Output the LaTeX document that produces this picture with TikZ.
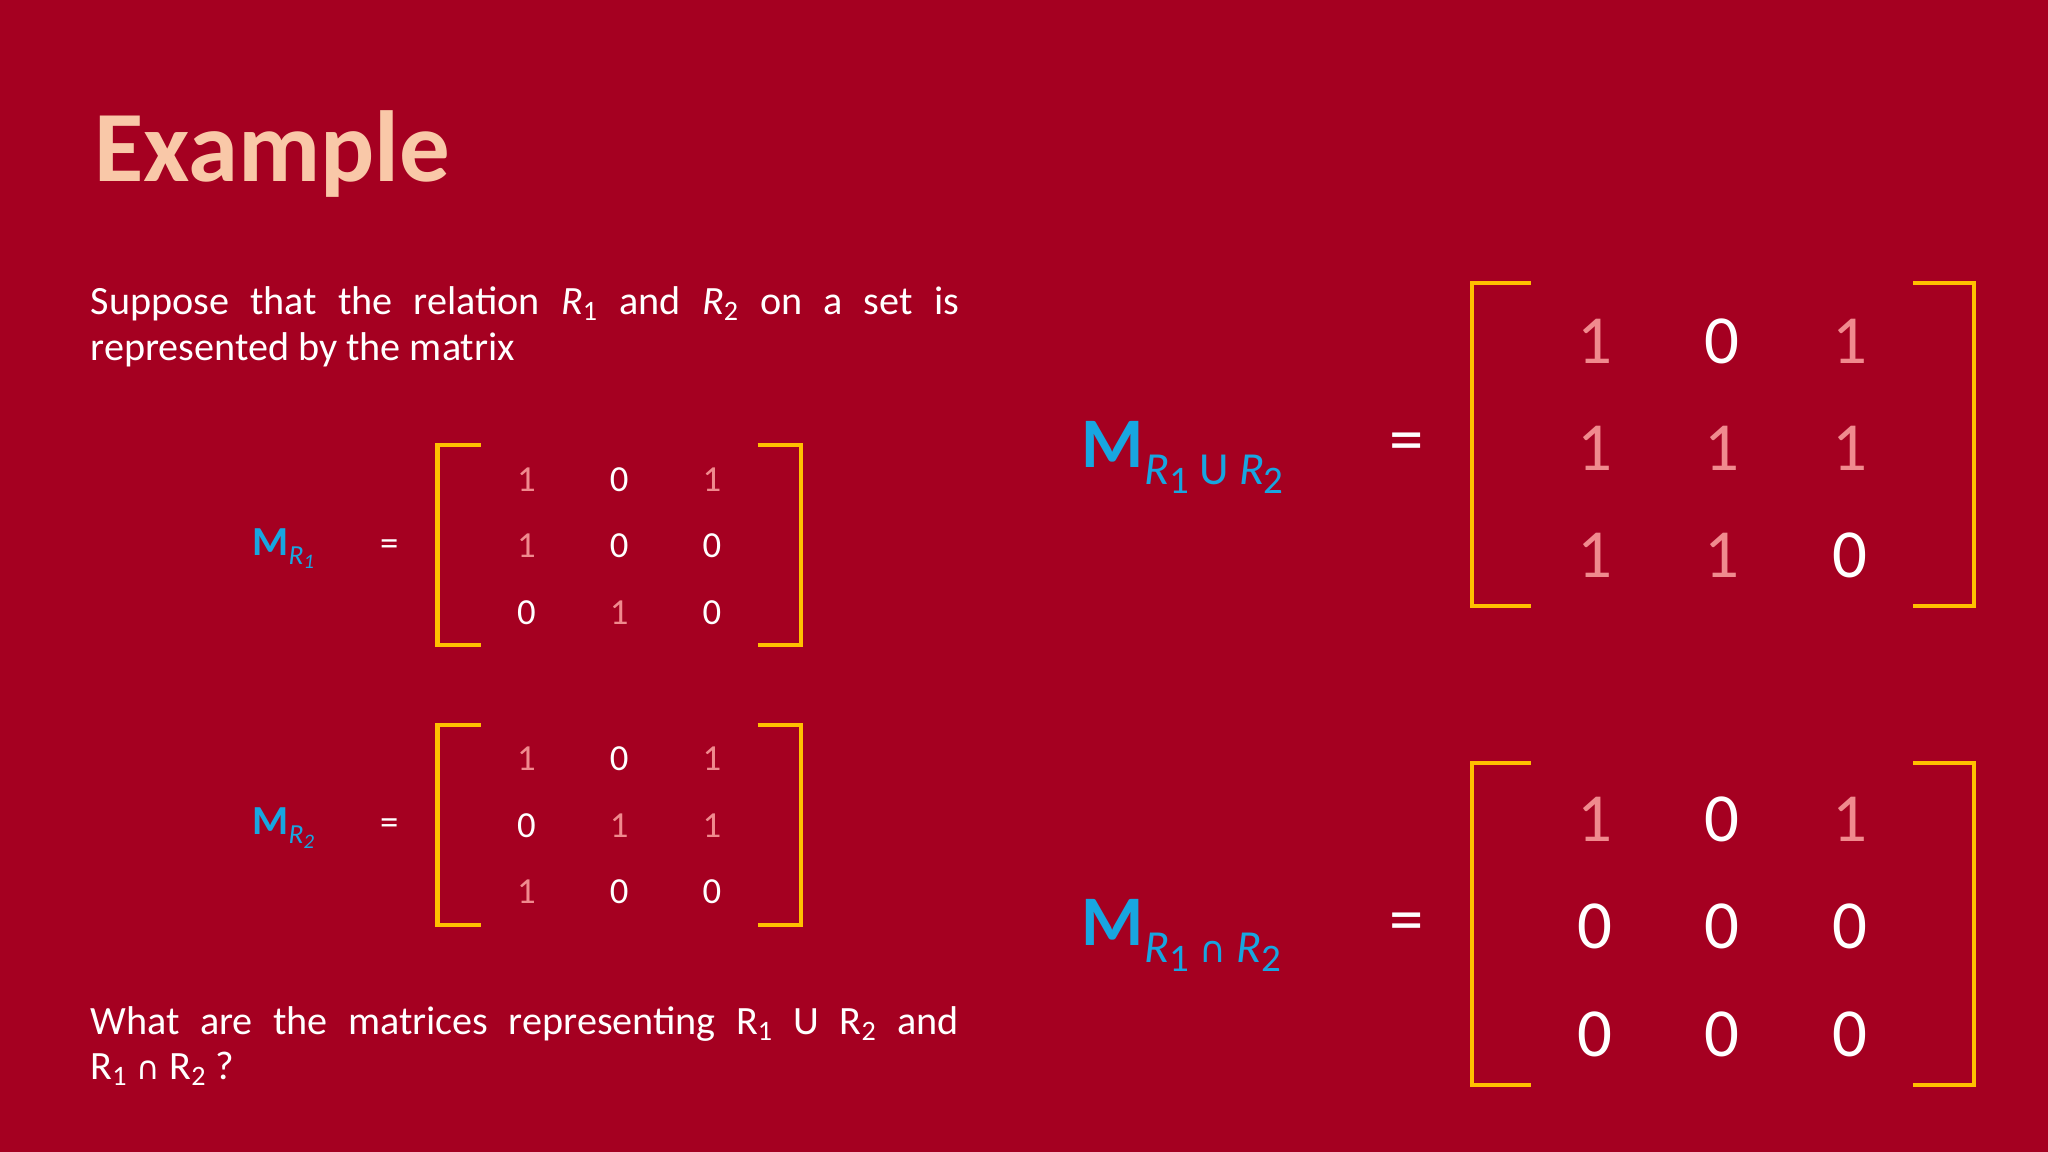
\documentclass[tikz,border=0pt]{standalone}
\usepackage{fontspec}
\setmainfont{Carlito}
\newfontfamily\djv{DejaVu Sans}
\definecolor{bg}{HTML}{A50021}
\definecolor{peach}{HTML}{F9C8A8}
\definecolor{pinkn}{HTML}{F08A8E}
\definecolor{gold}{HTML}{FFC000}
\definecolor{mblue}{HTML}{18A6E0}
\newcommand{\capn}{{\djv\fontsize{0.8em}{1em}\selectfont ∩}}
\newcommand{\bigsub}[3]{{\fontsize{#1}{#1}\selectfont\mdseries #2}}
\hyphenpenalty=10000
\begin{document}
\begin{tikzpicture}[x=0.02cm,y=-0.02cm,
  sm/.style={font=\fontsize{16}{18}\selectfont,text=white},
  smp/.style={sm,text=pinkn},
  bg1/.style={font=\fontsize{30}{32}\selectfont,text=white},
  bgp/.style={bg1,text=pinkn},
  brk/.style={draw=gold,line width=1.8pt},
  txt/.style={text=white,font=\fontsize{17.5}{20}\selectfont,anchor=north west,inner sep=0pt}]
\fill[bg] (0,0) rectangle (1568,882);
\node[anchor=west,text=peach,font=\fontsize{44}{48}\selectfont\bfseries] (title) at (66,118) {Example};
\node[txt,text width=13.3cm,align=justify] (intro) at (69,219) {Suppose that the relation \textit{R}\textsubscript{1} and \textit{R}\textsubscript{2} on a set is represented by the matrix};
\node[txt,text width=13.3cm,align=justify] (q) at (69,770) {What are the matrices representing R\textsubscript{1} U R\textsubscript{2} and\linebreak R\textsubscript{1} \capn{} R\textsubscript{2} ?};
% small matrix 1
\foreach \v/\s [count=\i from 0] in {1/smp,0/sm,1/smp,1/smp,0/sm,0/sm,0/sm,1/smp,0/sm}{
  \pgfmathsetmacro\cx{403+71*mod(\i,3)} \pgfmathsetmacro\cy{367+51*int(\i/3)}
  \node[\s] (a\i) at (\cx,\cy) {\v};}
\draw[brk] (368,341) -- (335,341) -- (335,494) -- (368,494);
\draw[brk] (580,341) -- (613,341) -- (613,494) -- (580,494);
\node[anchor=west,inner sep=0pt,text=mblue,font=\fontsize{18}{20}\selectfont\bfseries] (m1) at (193,420) {M\raisebox{-0.45ex}{\fontsize{12}{12}\selectfont\mdseries\itshape R\raisebox{-0.35ex}{\fontsize{9}{9}\selectfont 1}}};
\node[sm] (e1) at (298,419) {=};
% small matrix 2
\foreach \v/\s [count=\i from 0] in {1/smp,0/sm,1/smp,0/sm,1/smp,1/smp,1/smp,0/sm,0/sm}{
  \pgfmathsetmacro\cx{403+71*mod(\i,3)} \pgfmathsetmacro\cy{581+51*int(\i/3)}
  \node[\s] (b\i) at (\cx,\cy) {\v};}
\draw[brk] (368,555) -- (335,555) -- (335,708) -- (368,708);
\draw[brk] (580,555) -- (613,555) -- (613,708) -- (580,708);
\node[anchor=west,inner sep=0pt,text=mblue,font=\fontsize{18}{20}\selectfont\bfseries] (m2) at (193,634) {M\raisebox{-0.45ex}{\fontsize{12}{12}\selectfont\mdseries\itshape R\raisebox{-0.35ex}{\fontsize{9}{9}\selectfont 2}}};
\node[sm] (e2) at (298,633) {=};
% big matrix union
\foreach \v/\s [count=\i from 0] in {1/bgp,0/bg1,1/bgp,1/bgp,1/bgp,1/bgp,1/bgp,1/bgp,0/bg1}{
  \pgfmathsetmacro\cx{1221+97.5*mod(\i,3)} \pgfmathsetmacro\cy{261+82*int(\i/3)}
  \node[\s] (c\i) at (\cx,\cy) {\v};}
\draw[brk] (1172,217) -- (1127,217) -- (1127,464) -- (1172,464);
\draw[brk] (1465,217) -- (1511,217) -- (1511,464) -- (1465,464);
\node[anchor=west,text=mblue,font=\fontsize{31}{32}\selectfont\bfseries,inner sep=0pt] (m3) at (828,350) {M\raisebox{-0.5ex}{\fontsize{20}{20}\selectfont\mdseries\itshape R\raisebox{-0.4ex}{\upshape\fontsize{17}{17}\selectfont 1} \upshape U \itshape R\raisebox{-0.4ex}{\upshape\fontsize{17}{17}\selectfont 2}}};
\node[bg1] (e3) at (1077,343) {=};
% big matrix intersection
\foreach \v/\s [count=\i from 0] in {1/bgp,0/bg1,1/bgp,0/bg1,0/bg1,0/bg1,0/bg1,0/bg1,0/bg1}{
  \pgfmathsetmacro\cx{1221+97.5*mod(\i,3)} \pgfmathsetmacro\cy{627+82.5*int(\i/3)}
  \node[\s] (d\i) at (\cx,\cy) {\v};}
\draw[brk] (1172,584) -- (1127,584) -- (1127,831) -- (1172,831);
\draw[brk] (1465,584) -- (1511,584) -- (1511,831) -- (1465,831);
\node[anchor=west,text=mblue,font=\fontsize{31}{32}\selectfont\bfseries,inner sep=0pt] (m4) at (828,716) {M\raisebox{-0.5ex}{\fontsize{20}{20}\selectfont\mdseries\itshape R\raisebox{-0.4ex}{\upshape\fontsize{17}{17}\selectfont 1} \upshape\capn{} \itshape R\raisebox{-0.4ex}{\upshape\fontsize{17}{17}\selectfont 2}}};
\node[bg1] (e4) at (1077,710) {=};
\end{tikzpicture}
\end{document}
